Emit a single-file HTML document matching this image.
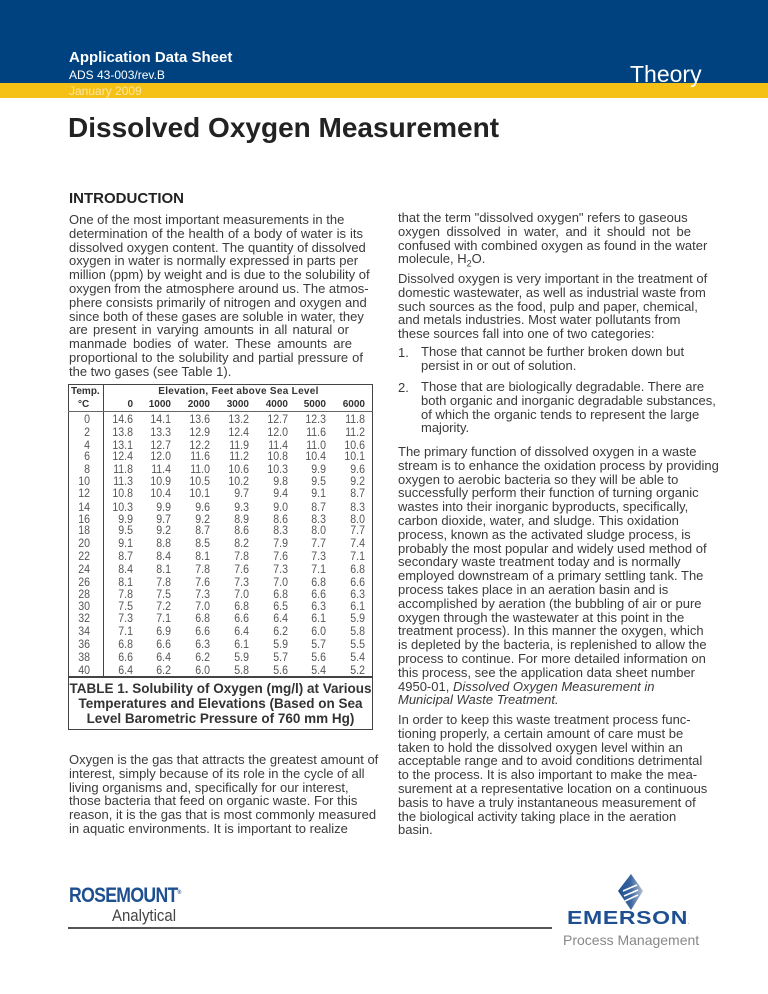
<!DOCTYPE html>
<html><head><meta charset="utf-8"><style>
*{margin:0;padding:0;box-sizing:border-box}
body{width:768px;height:994px;position:relative;background:#fff;font-family:"Liberation Sans",Arial,sans-serif;color:#3a3a3a;overflow:hidden}
.a{position:absolute;white-space:nowrap}
.p{position:absolute;font-size:13px;line-height:13.8px}
.p span{display:block;white-space:nowrap;height:13.8px}
.j{text-align:justify;text-align-last:justify}
.t{position:absolute;font-size:11.5px;color:#555;line-height:12px;width:30px;text-align:right;transform:scaleX(0.92);transform-origin:right}
</style></head><body>
<div class="a" style="left:0;top:0;width:768px;height:83px;background:#00427f"></div>
<div class="a" style="left:0;top:83px;width:768px;height:15px;background:#f5c116"></div>
<div class="a" style="left:69px;top:49px;font-size:15px;font-weight:bold;color:#fff">Application Data Sheet</div>
<div class="a" style="left:69px;top:68px;font-size:12px;color:#fff">ADS 43-003/rev.B</div>
<div class="a" style="left:69px;top:84px;font-size:12px;color:#fbe6a0">January 2009</div>
<div class="a" style="left:630px;top:61px;font-size:23px;color:#fff">Theory</div>
<div class="a" style="left:68px;top:112px;font-size:28px;font-weight:bold;color:#222">Dissolved Oxygen Measurement</div>
<div class="a" style="left:69px;top:190px;font-size:15px;font-weight:bold;color:#222">INTRODUCTION</div>

<div class="p" style="left:69px;top:213px;width:294px">
<span>One of the most important measurements in the</span>
<span class="j">determination of the health of a body of water is its</span>
<span class="j">dissolved oxygen content. The quantity of dissolved</span>
<span>oxygen in water is normally expressed in parts per</span>
<span class="j">million (ppm) by weight and is due to the solubility of</span>
<span class="j">oxygen from the atmosphere around us. The atmos-</span>
<span class="j">phere consists primarily of nitrogen and oxygen and</span>
<span class="j">since both of these gases are soluble in water, they</span>
<span class="j" style="width:280px">are present in varying amounts in all natural or</span>
<span class="j" style="width:283px">manmade bodies of water. These amounts are</span>
<span class="j">proportional to the solubility and partial pressure of</span>
<span>the two gases (see Table 1).</span>
</div>

<!-- table -->
<div class="a" style="left:68px;top:384px;width:305px;height:346px;border:1.5px solid #444"></div>
<div class="a" style="left:103px;top:384px;width:1px;height:293px;background:#444"></div>
<div class="a" style="left:68px;top:411px;width:305px;height:1px;background:#666"></div>
<div class="a" style="left:68px;top:676px;width:305px;height:2px;background:#444"></div>
<div class="a" style="left:71px;top:386px;font-size:10px;font-weight:bold;color:#333">Temp.</div>
<div class="a" style="left:78px;top:399px;font-size:10px;font-weight:bold;color:#333">°C</div>
<div class="a" style="left:104px;top:386px;width:269px;text-align:center;font-size:10px;font-weight:bold;color:#333;letter-spacing:0.3px">Elevation, Feet above Sea Level</div>
<div id="tb"></div>
<div class="a" style="left:68px;top:681px;width:305px;text-align:center;font-size:13.5px;font-weight:bold;line-height:15px;color:#333">TABLE 1. Solubility of Oxygen (mg/l) at Various<br>Temperatures and Elevations (Based on Sea<br>Level Barometric Pressure of 760 mm Hg)</div>

<div class="p" style="left:69px;top:753px;width:300px">
<span class="j">Oxygen is the gas that attracts the greatest amount of</span>
<span>interest, simply because of its role in the cycle of all</span>
<span>living organisms and, specifically for our interest,</span>
<span>those bacteria that feed on organic waste. For this</span>
<span>reason, it is the gas that is most commonly measured</span>
<span>in aquatic environments. It is important to realize</span>
</div>

<div class="p" style="left:398px;top:211px;width:299px">
<span>that the term "dissolved oxygen" refers to gaseous</span>
<span class="j" style="width:293px">oxygen dissolved in water, and it should not be</span>
<span class="j">confused with combined oxygen as found in the water</span>
<span>molecule, H<sub style="font-size:9px">2</sub>O.</span>
</div>
<div class="p" style="left:398px;top:272px;width:299px">
<span class="j">Dissolved oxygen is very important in the treatment of</span>
<span class="j">domestic wastewater, as well as industrial waste from</span>
<span>such sources as the food, pulp and paper, chemical,</span>
<span>and metals industries. Most water pollutants from</span>
<span>these sources fall into one of two categories:</span>
</div>
<div class="a" style="left:398px;top:345px;font-size:13px">1.</div>
<div class="p" style="left:421px;top:345px;width:276px">
<span>Those that cannot be further broken down but</span>
<span>persist in or out of solution.</span>
</div>
<div class="a" style="left:398px;top:380px;font-size:13px">2.</div>
<div class="p" style="left:421px;top:380px;width:276px">
<span class="j">Those that are biologically degradable. There are</span>
<span class="j">both organic and inorganic degradable substances,</span>
<span class="j">of which the organic tends to represent the large</span>
<span>majority.</span>
</div>
<div class="p" style="left:398px;top:445px;width:299px">
<span>The primary function of dissolved oxygen in a waste</span>
<span class="j">stream is to enhance the oxidation process by providing</span>
<span>oxygen to aerobic bacteria so they will be able to</span>
<span class="j" style="width:287px">successfully perform their function of turning organic</span>
<span>wastes into their inorganic byproducts, specifically,</span>
<span>carbon dioxide, water, and sludge. This oxidation</span>
<span>process, known as the activated sludge process, is</span>
<span class="j">probably the most popular and widely used method of</span>
<span>secondary waste treatment today and is normally</span>
<span class="j">employed downstream of a primary settling tank. The</span>
<span>process takes place in an aeration basin and is</span>
<span class="j">accomplished by aeration (the bubbling of air or pure</span>
<span>oxygen through the wastewater at this point in the</span>
<span class="j">treatment process). In this manner the oxygen, which</span>
<span class="j">is depleted by the bacteria, is replenished to allow the</span>
<span class="j">process to continue. For more detailed information on</span>
<span>this process, see the application data sheet number</span>
<span>4950-01, <i>Dissolved Oxygen Measurement in</i></span>
<span><i>Municipal Waste Treatment.</i></span>
</div>
<div class="p" style="left:398px;top:713px;width:299px">
<span>In order to keep this waste treatment process func-</span>
<span>tioning properly, a certain amount of care must be</span>
<span>taken to hold the dissolved oxygen level within an</span>
<span class="j">acceptable range and to avoid conditions detrimental</span>
<span>to the process. It is also important to make the mea-</span>
<span class="j">surement at a representative location on a continuous</span>
<span>basis to have a truly instantaneous measurement of</span>
<span>the biological activity taking place in the aeration</span>
<span>basin.</span>
</div>

<!-- footer -->
<div class="a" style="left:69px;top:884px;font-size:21px;font-weight:bold;color:#1d4f91;transform:scaleX(0.84);transform-origin:left;letter-spacing:-0.8px">ROSEMOUNT<sup style="font-size:6px">®</sup></div>
<div class="a" style="left:112px;top:906px;font-size:17px;color:#444;transform:scaleX(0.88);transform-origin:left">Analytical</div>
<div class="a" style="left:68px;top:927px;width:484px;height:2px;background:#555"></div>
<svg class="a" style="left:618px;top:874px" width="25" height="36" viewBox="0 0 25 36">
<defs><linearGradient id="g" x1="0" x2="1"><stop offset="0" stop-color="#1d4f91"/><stop offset="0.5" stop-color="#3a65a0"/><stop offset="1" stop-color="#b8c2d0"/></linearGradient></defs>
<polygon points="13,0 25,17 13,36 0,17" fill="url(#g)"/>
<g stroke="#fff" stroke-width="1.6"><line x1="5" y1="17" x2="19" y2="11"/><line x1="6" y1="22" x2="20" y2="16"/><line x1="7" y1="27" x2="20" y2="21"/></g>
</svg>
<div class="a" style="left:567px;top:909px;font-size:18px;line-height:18px;font-weight:bold;color:#1d4f91;transform:scaleX(1.28);transform-origin:left;letter-spacing:0.5px">EMERSON<span style="font-size:4px">.</span></div>
<div class="a" style="left:563px;top:932px;font-size:14px;line-height:16px;color:#888">Process Management</div>

<script>
var rows=[[0,14.6,14.1,13.6,13.2,12.7,12.3,11.8],[2,13.8,13.3,12.9,12.4,12.0,11.6,11.2],[4,13.1,12.7,12.2,11.9,11.4,11.0,10.6],[6,12.4,12.0,11.6,11.2,10.8,10.4,10.1],[8,11.8,11.4,11.0,10.6,10.3,9.9,9.6],[10,11.3,10.9,10.5,10.2,9.8,9.5,9.2],[12,10.8,10.4,10.1,9.7,9.4,9.1,8.7],[14,10.3,9.9,9.6,9.3,9.0,8.7,8.3],[16,9.9,9.7,9.2,8.9,8.6,8.3,8.0],[18,9.5,9.2,8.7,8.6,8.3,8.0,7.7],[20,9.1,8.8,8.5,8.2,7.9,7.7,7.4],[22,8.7,8.4,8.1,7.8,7.6,7.3,7.1],[24,8.4,8.1,7.8,7.6,7.3,7.1,6.8],[26,8.1,7.8,7.6,7.3,7.0,6.8,6.6],[28,7.8,7.5,7.3,7.0,6.8,6.6,6.3],[30,7.5,7.2,7.0,6.8,6.5,6.3,6.1],[32,7.3,7.1,6.8,6.6,6.4,6.1,5.9],[34,7.1,6.9,6.6,6.4,6.2,6.0,5.8],[36,6.8,6.6,6.3,6.1,5.9,5.7,5.5],[38,6.6,6.4,6.2,5.9,5.7,5.6,5.4],[40,6.4,6.2,6.0,5.8,5.6,5.4,5.2]];
var ys=[420,433,446,457,470,482,494,508,520,531,544,557,570,583,595,607,619,632,645,658,671];
var rx=[90,133,171,210,249,288,326,365];
var h='';
var hd=['0','1000','2000','3000','4000','5000','6000'];
for(var k=0;k<7;k++)h+='<div class="a" style="left:'+(rx[k+1]-40)+'px;width:40px;text-align:right;top:399px;font-weight:bold;font-size:10px;color:#333">'+hd[k]+'</div>';
rows.forEach(function(r,i){r.forEach(function(v,j){var s=j==0?String(v):v.toFixed(1);h+='<div class="t" style="left:'+(rx[j]-30)+'px;top:'+(ys[i]-6)+'px">'+s+'</div>';});});
document.getElementById('tb').innerHTML=h;
</script>
</body></html>
